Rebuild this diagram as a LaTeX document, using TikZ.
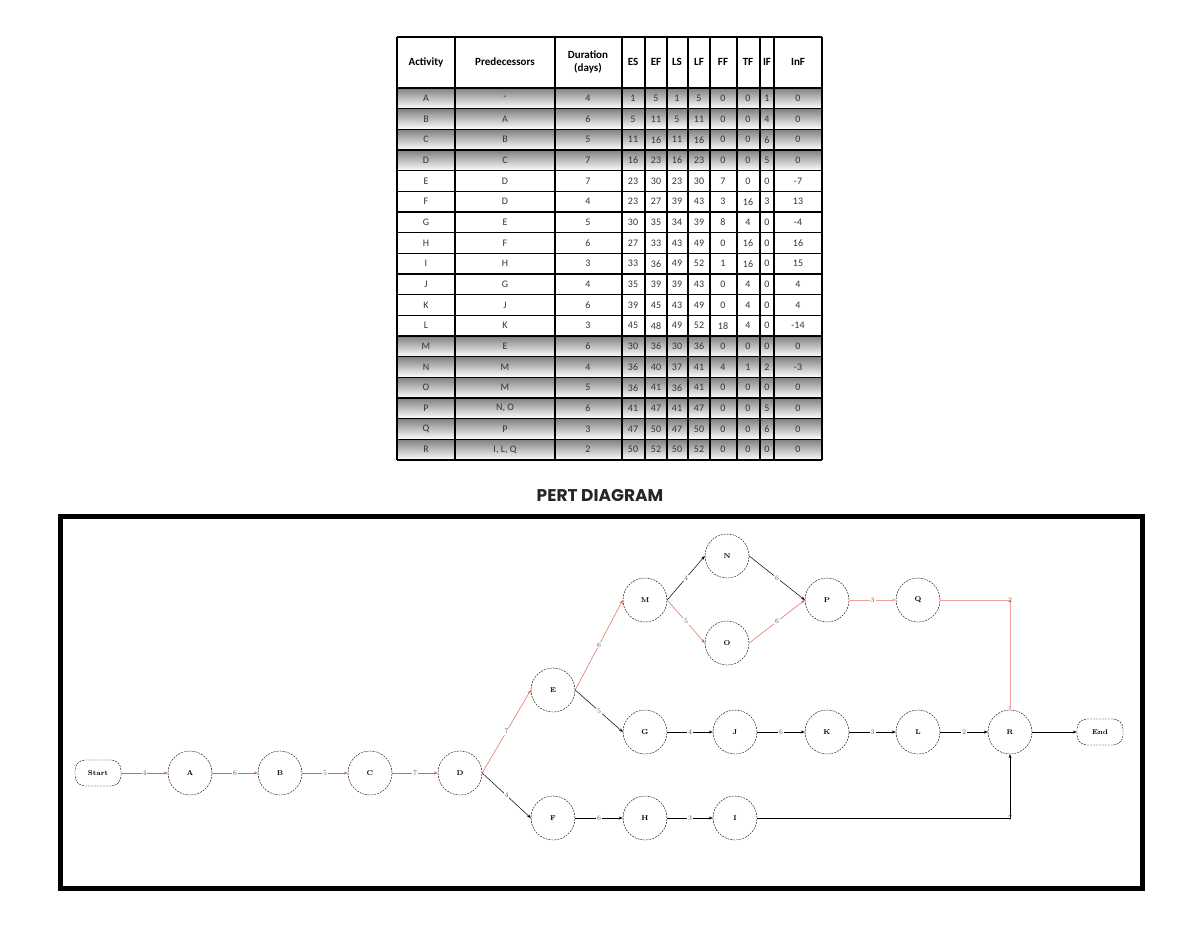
\documentclass[tikz,border=0pt]{standalone}
\usepackage{fontspec}
\newfontfamily\calfont{Carlito}
\newfontfamily\headfont{Poppins}
\usetikzlibrary{arrows.meta}
\definecolor{crit}{RGB}{222,100,80}
\definecolor{critpale}{RGB}{240,160,150}
\definecolor{shade}{RGB}{228,223,233}
\definecolor{lab}{RGB}{90,90,90}
\tikzset{
  ev/.style={circle,draw,dashed,dash pattern=on 2pt off 1pt,minimum size=44pt,inner sep=0pt,font=\fontsize{7}{8}\selectfont\bfseries},
  term/.style={rounded corners=10pt,draw,dashed,dash pattern=on 2pt off 1pt,minimum width=46pt,minimum height=26pt,font=\fontsize{7}{8}\selectfont\bfseries},
  ed/.style={-{Stealth[length=4pt,width=3pt]},line width=0.5pt},
  cr/.style={ed,crit},
  lb/.style={fill=white,inner sep=1pt,text=lab,font=\fontsize{7}{8}\selectfont},
  cell/.style={font=\calfont\fontsize{10}{11}\selectfont,text=black!80},
  hd/.style={font=\calfont\bfseries\fontsize{11}{13}\selectfont,align=center}
}
\begin{document}
\begin{tikzpicture}[x=1pt,y=-1pt]
\useasboundingbox (0,0) rectangle (1200,927);
% ---------- table ----------
\def\rh{20.667}
\foreach \r in {1,2,3,4,13,14,15,16,17,18}
  \fill[shade] (397,{88+(\r-1)*\rh}) rectangle (822,{88+\r*\rh});
\foreach \xx in {397,455,555,622,645,667,688,710,737,760,774,822}
  \draw[line width=1.6pt] (\xx,37) -- (\xx,460);
\draw[line width=1.6pt] (397,37) -- (822,37);
\foreach \r in {0,...,18}
  \draw[line width=1.6pt] (397,{88+\r*\rh}) -- (822,{88+\r*\rh});
\node[hd] (h1) at (426,62) {Activity};
\node[hd] (h2) at (505,62) {Predecessors};
\node[hd] (h3) at (588,62) {Duration\\(days)};
\foreach \t/\xx in {ES/633,EF/656,LS/677,LF/699,FF/723,TF/748,IF/767,InF/798}
  \node[hd] (h\t) at (\xx,62) {\t};
\foreach \a/\p/\d/\es/\ef/\ls/\lf/\ff/\tf/\iff/\inf [count=\i] in {
 A/-/4/1/5/1/5/0/0/1/0,
 B/A/6/5/11/5/11/0/0/4/0,
 C/B/5/11/16/11/16/0/0/6/0,
 D/C/7/16/23/16/23/0/0/5/0,
 E/D/7/23/30/23/30/7/0/0/-7,
 F/D/4/23/27/39/43/3/16/3/13,
 G/E/5/30/35/34/39/8/4/0/-4,
 H/F/6/27/33/43/49/0/16/0/16,
 I/H/3/33/36/49/52/1/16/0/15,
 J/G/4/35/39/39/43/0/4/0/4,
 K/J/6/39/45/43/49/0/4/0/4,
 L/K/3/45/48/49/52/18/4/0/-14,
 M/E/6/30/36/30/36/0/0/0/0,
 N/M/4/36/40/37/41/4/1/2/-3,
 O/M/5/36/41/36/41/0/0/0/0,
 P/{N, O}/6/41/47/41/47/0/0/5/0,
 Q/P/3/47/50/47/50/0/0/6/0,
 R/{I, L, Q}/2/50/52/50/52/0/0/0/0}
{
  \pgfmathsetmacro\yy{88+(\i-0.5)*\rh}
  \node[cell] (ta\i) at (426,\yy) {\a};
  \node[cell] (tp\i) at (505,\yy) {\p};
  \node[cell] (td\i) at (588,\yy) {\d};
  \node[cell] (t1\i) at (633,\yy) {\es};
  \node[cell] (t2\i) at (656,\yy) {\ef};
  \node[cell] (t3\i) at (677,\yy) {\ls};
  \node[cell] (t4\i) at (699,\yy) {\lf};
  \node[cell] (t5\i) at (723,\yy) {\ff};
  \node[cell] (t6\i) at (748,\yy) {\tf};
  \node[cell] (t7\i) at (767,\yy) {\iff};
  \node[cell] (t8\i) at (798,\yy) {\inf};
}
% ---------- title & frame ----------
\node[font=\headfont\bfseries\fontsize{17}{20}\selectfont,text=black!85] (title) at (600,495) {PERT DIAGRAM};
\draw[line width=5pt] (60,516) rectangle (1142,888);
% ---------- nodes ----------
\node[term] (St) at (98,773) {Start};
\node[ev] (A) at (190,773) {A};
\node[ev] (B) at (280,773) {B};
\node[ev] (C) at (370,773) {C};
\node[ev] (D) at (460,773) {D};
\node[ev] (E) at (553,690) {E};
\node[ev] (F) at (553,818) {F};
\node[ev] (M) at (645,600) {M};
\node[ev] (N) at (727,556) {N};
\node[ev] (O) at (727,643) {O};
\node[ev] (P) at (827,600) {P};
\node[ev] (Q) at (918,600) {Q};
\node[ev] (G) at (645,732) {G};
\node[ev] (J) at (735,732) {J};
\node[ev] (K) at (827,732) {K};
\node[ev] (L) at (918,732) {L};
\node[ev] (R) at (1010,732) {R};
\node[term] (En) at (1100,732) {End};
\node[ev] (H) at (645,818) {H};
\node[ev] (I) at (735,818) {I};
\coordinate (qr) at (R|-Q);
\coordinate (ir) at (R|-I);
% ---------- edges ----------
\draw[cr] (St) -- node[lb]{4} (A);
\draw[cr] (A) -- node[lb]{6} (B);
\draw[cr] (B) -- node[lb]{5} (C);
\draw[cr] (C) -- node[lb]{7} (D);
\draw[cr] (D.east) -- node[lb]{7} (E.west);
\draw[cr] (E.east) -- node[lb]{6} (M.west);
\draw[cr] (M.east) -- node[lb]{5} (O.west);
\draw[cr] (O.east) -- node[lb]{6} (P.west);
\draw[cr,critpale] (P) -- node[lb]{3} (Q);
\draw[ed,critpale] (Q) -- (qr) -- (R);
\node[lb,fill=none] (l2) at (qr) {2};
\draw[ed] (D.east) -- node[lb]{4} (F.west);
\draw[ed] (M.east) -- node[lb]{4} (N.west);
\draw[ed] (N.east) -- node[lb]{6} (P.west);
\draw[ed] (E.east) -- node[lb]{5} (G.west);
\draw[ed] (G) -- node[lb]{4} (J);
\draw[ed] (J) -- node[lb]{6} (K);
\draw[ed] (K) -- node[lb]{3} (L);
\draw[ed] (L) -- node[lb]{2} (R);
\draw[ed] (R) -- (En);
\draw[ed] (F) -- node[lb]{6} (H);
\draw[ed] (H) -- node[lb]{3} (I);
\draw[ed] (I) -- (ir) -- (R);
\node[lb,fill=none] (l7) at (ir) {7};
\end{tikzpicture}
\end{document}
